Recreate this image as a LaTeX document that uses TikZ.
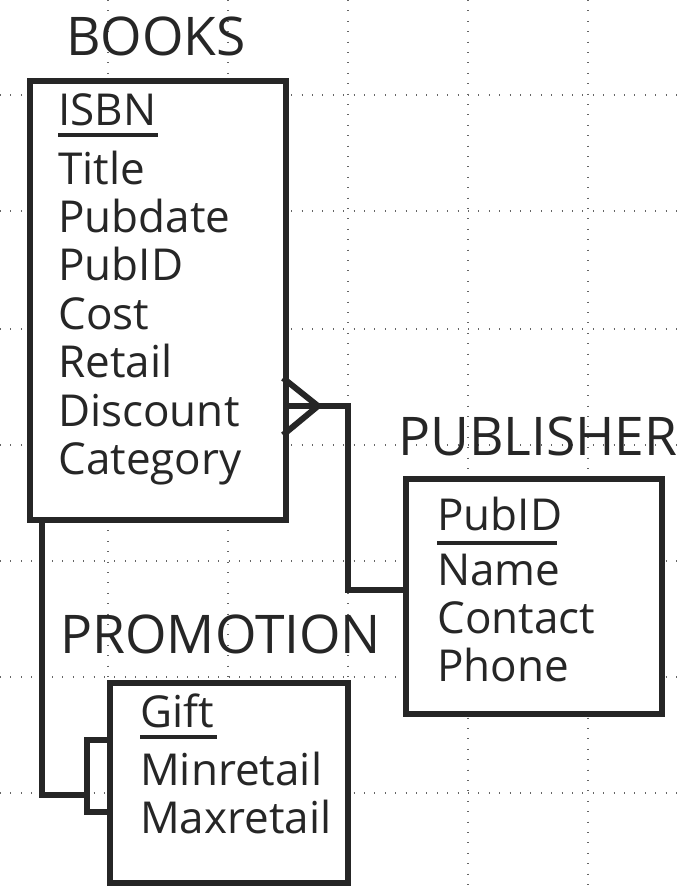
\documentclass[tikz,border=0pt]{standalone}
\usepackage{fontspec}
\setmainfont{Open Sans}
\begin{document}
\begin{tikzpicture}[x=0.75pt,y=-0.75pt,
  ent/.style={draw=black!85,line width=4.5pt},
  conn/.style={draw=black!85,line width=4.5pt},
  attr/.style={anchor=base west,inner sep=0pt,font=\fontsize{33}{38}\selectfont,text=black!85},
  ttl/.style={anchor=base west,inner sep=0pt,font=\fontsize{40}{44}\selectfont,text=black!85},
  grid/.style={black!60,line width=0.8pt,dash pattern=on 0.8pt off 7pt}]
\useasboundingbox (0,0) rectangle (678,894);
\foreach \x in {108,228,348,468,588} \draw[grid] (\x,0) -- (\x,894);
\foreach \y in {95,211,329,445,561,677,793} \draw[grid] (0,\y) -- (678,\y);
% BOOKS
\node[ent,fill=white,minimum width=256*0.75pt,minimum height=439*0.75pt,anchor=north west,inner sep=0pt] (books) at (27,78) {};
\node[ttl] (tb) at (66,55) {BOOKS};
\node[attr] (isbn) at (58,125) {ISBN};
\draw[line width=3pt,black!85] (58,135) -- (158,135);
\node[attr] at (58,184) {Title};
\node[attr] at (58,232) {Pubdate};
\node[attr] at (58,280) {PubID};
\node[attr] at (58,329) {Cost};
\node[attr] at (58,377) {Retail};
\node[attr] at (58,426) {Discount};
\node[attr] at (58,474) {Category};
% PUBLISHER
\node[ent,fill=white,minimum width=256*0.75pt,minimum height=235*0.75pt,anchor=north west,inner sep=0pt] (pub) at (403,476) {};
\node[ttl] (tp) at (398,455) {PUBLISHER};
\node[attr] at (437,530) {PubID};
\draw[line width=3pt,black!85] (437,543) -- (557,543);
\node[attr] at (437,585) {Name};
\node[attr] at (437,633) {Contact};
\node[attr] at (437,681) {Phone};
% PROMOTION
\node[ent,fill=white,minimum width=238*0.75pt,minimum height=200*0.75pt,anchor=north west,inner sep=0pt] (promo) at (107,680) {};
\node[ttl] (tpr) at (60,653) {PROMOTION};
\node[attr] at (140,727) {Gift};
\draw[line width=3pt,black!85] (140,737) -- (217,737);
\node[attr] at (140,785) {Minretail};
\node[attr] at (140,833) {Maxretail};
% connectors
\coordinate (c1) at (283,406);
\coordinate (c2) at (318,406);
\draw[conn] (283,378) -- (c2) -- (283,435);
\draw[conn] (c1) -- (348,406) -- (348,590) -- (pub.west |- 0,590);
\draw[conn] (books.south west -| 42,0) -- (42,795) -- (87,795);
\draw[conn] (107,740) -- (87,740) -- (87,812) -- (107,812);
\end{tikzpicture}
\end{document}
